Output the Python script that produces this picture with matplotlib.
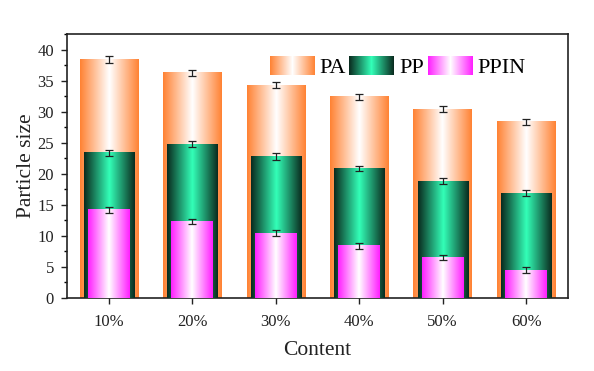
import numpy as np
import matplotlib
matplotlib.use('Agg')
import matplotlib.pyplot as plt
from matplotlib.colors import LinearSegmentedColormap
from matplotlib.legend_handler import HandlerBase
from matplotlib.image import BboxImage
from matplotlib.transforms import Bbox, TransformedBbox
from matplotlib.patches import Rectangle
from matplotlib.ticker import MultipleLocator

plt.rcParams['font.family'] = ['Liberation Serif', 'DejaVu Serif']

# data
contents = ['10%', '20%', '30%', '40%', '50%', '60%']
pa = [38.4, 36.3, 34.3, 32.4, 30.4, 28.4]
pa_err = [0.5, 0.5, 0.5, 0.5, 0.5, 0.5]
pp = [23.4, 24.8, 22.8, 20.9, 18.8, 16.9]
pp_err = [0.5, 0.5, 0.5, 0.4, 0.5, 0.5]
ppin = [14.2, 12.3, 10.4, 8.4, 6.5, 4.5]
ppin_err = [0.5, 0.4, 0.5, 0.5, 0.4, 0.5]

# horizontal gradient colormaps (edge -> centre -> edge)
cmap_pa = LinearSegmentedColormap.from_list('pa', ['#ff8233', '#ffffff', '#ff8233'])
cmap_pp = LinearSegmentedColormap.from_list('pp', ['#0a2a1e', '#33ffb8', '#0a2a1e'])
cmap_ppin = LinearSegmentedColormap.from_list('ppin', ['#ff1eff', '#ffffff', '#ff1eff'])
grad = np.linspace(0, 1, 256).reshape(1, -1)


class GradientHandler(HandlerBase):
    def __init__(self, cmap):
        super().__init__()
        self.cmap = cmap

    def create_artists(self, legend, orig_handle, xdescent, ydescent,
                       width, height, fontsize, trans):
        bb = TransformedBbox(Bbox.from_bounds(-xdescent, -ydescent, width, height), trans)
        img = BboxImage(bb, cmap=self.cmap, interpolation='bilinear')
        img.set_data(grad)
        return [img]


def gradient_bars(ax, x, vals, err, width, cmap, z):
    bars = ax.bar(x, vals, width=width, color='none', edgecolor='none', zorder=z)
    for rect in bars:
        x0, y0 = rect.get_xy()
        ax.imshow(grad, extent=[x0, x0 + rect.get_width(), y0, y0 + rect.get_height()],
                  aspect='auto', cmap=cmap, interpolation='bilinear', zorder=z)
    ax.errorbar(x, vals, yerr=err, fmt='none', ecolor='#222222', elinewidth=0.9,
                capsize=3, capthick=0.9, zorder=z + 0.5)


fig = plt.figure(figsize=(5.94, 3.71), dpi=100)
ax = fig.add_axes([0.113, 0.197, 0.843, 0.711])

x = np.arange(1, len(contents) + 1)
gradient_bars(ax, x, pa, pa_err, 0.7, cmap_pa, 2)
gradient_bars(ax, x, pp, pp_err, 0.6, cmap_pp, 3)
gradient_bars(ax, x, ppin, ppin_err, 0.5, cmap_ppin, 4)

ax.set_xlim(0.5, 6.5)
ax.set_ylim(0, 42.5)
ax.set_xticks(x)
ax.set_xticklabels(contents)
ax.yaxis.set_major_locator(MultipleLocator(5))
ax.yaxis.set_minor_locator(MultipleLocator(2.5))
ax.tick_params(axis='both', direction='out', labelsize=12, colors='#222222', width=1, length=4.5)
ax.tick_params(axis='x', pad=7)
ax.tick_params(axis='y', pad=5)
ax.tick_params(axis='y', which='minor', direction='out', length=2.5, width=1)
for s in ax.spines.values():
    s.set_linewidth(1.2)
    s.set_color('#222222')

ax.set_xlabel('Content', fontsize=15.5, color='#222222', labelpad=8)
ax.set_ylabel('Particle size', fontsize=15.5, color='#222222', labelpad=1)

h_pa, h_pp, h_ppin = Rectangle((0, 0), 1, 1), Rectangle((0, 0), 1, 1), Rectangle((0, 0), 1, 1)
ax.legend([h_pa, h_pp, h_ppin], ['PA', 'PP', 'PPIN'],
          handler_map={h_pa: GradientHandler(cmap_pa), h_pp: GradientHandler(cmap_pp),
                       h_ppin: GradientHandler(cmap_ppin)},
          ncol=3, frameon=False, fontsize=16, handlelength=2.0, handleheight=0.9,
          handletextpad=0.25, columnspacing=0.15, loc='center', bbox_to_anchor=(0.66, 0.875),
          borderpad=0.2)

fig.savefig('out.png', dpi=100)
